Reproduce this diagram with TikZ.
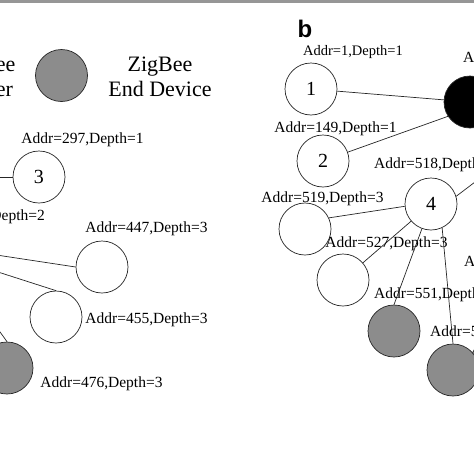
\documentclass[tikz,border=0pt]{standalone}
\usepackage{fontspec}
\setmainfont{Liberation Serif}
\newfontfamily\panelfont{Liberation Sans}
\usetikzlibrary{positioning}
\definecolor{devgray}{RGB}{140,140,140}
\definecolor{bargray}{RGB}{150,150,150}
\tikzstyle{router} = [draw=black!85, line width=0.7pt, circle, fill=white,
    minimum size=52pt, inner sep=0pt, font=\fontsize{20}{20}\selectfont]
\tikzstyle{enddev} = [router, fill=devgray]
\tikzstyle{coordnode} = [router, fill=black]
\tikzstyle{addr} = [inner sep=0pt, font=\fontsize{15.5}{18}\selectfont]
\tikzstyle{legend} = [align=center, inner sep=0pt, font=\fontsize{22}{25}\selectfont]
\tikzstyle{link} = [draw=black!85, line width=0.7pt]

\begin{document}
\begin{tikzpicture}[x=1pt, y=-1pt]
    \useasboundingbox (0,0) rectangle (474,474);
    \clip (0,0) rectangle (474,474);
    \fill [bargray] (0,0) rectangle (474,2.5);
    \node [legend] (legrouter) at (-17,77) {ZigBee\\Router};
    \node [enddev] (legdev) at (61.5,75.5) {};
    \node [legend] (legdevtext) at (160,77) {ZigBee\\End Device};
    \node [inner sep=0pt, font=\panelfont\bfseries\fontsize{24}{24}\selectfont] (panelb) at (305,29) {b};
    \coordinate (p3) at (-30,177);
    \coordinate (p447) at (-30,251);
    \coordinate (p455) at (-30,263);
    \coordinate (p476) at (-10,318);
    \coordinate (p518) at (500,163);
    \node [router] (n3) at (39,177) {3};
    \node [router] (n447) at (102,267) {};
    \node [router] (n455) at (56,317) {};
    \node [enddev] (n476) at (7,368) {};
    \node [router] (n1) at (311,89) {1};
    \node [router] (n2) at (323,161) {2};
    \node [coordnode] (n0) at (470,102) {};
    \node [router] (n4) at (431,204) {4};
    \node [router] (n519) at (305,229) {};
    \node [router] (n527) at (343,280) {};
    \node [enddev] (n551) at (394,331) {};
    \node [enddev] (n5x) at (497,362) {};
    \node [enddev] (n553) at (453,370) {};
    \draw [link] (p3) -- (n3);
    \draw [link] (p447) -- (n447.west);
    \draw [link] (p455) -- (n455.north);
    \draw [link] (p476) -- (n476.north);
    \draw [link] (n1) -- (n0);
    \draw [link] (n2) -- (n0.213);
    \draw [link] (n4.17) -- (p518);
    \draw [link] (n519.25) -- (n4.185);
    \draw [link] (n527) -- (n4);
    \draw [link] (n4) -- (n551.north);
    \draw [link] (n4.295) -- (n553.north);
    \node [addr] (l297) at (82.5,139.5) {Addr=297,Depth=1};
    \node [addr, anchor=east] (l2x) at (45,216.5) {Depth=2};
    \node [addr] (l447) at (146.5,228.5) {Addr=447,Depth=3};
    \node [addr] (l455) at (146.5,319.5) {Addr=455,Depth=3};
    \node [addr] (l476) at (101.5,383.5) {Addr=476,Depth=3};
    \node [addr, font=\fontsize{14.5}{17}\selectfont] (l1) at (353,52) {Addr=1,Depth=1};
    \node [addr, anchor=west] (l0) at (463,58.5) {Addr=0,Depth=0};
    \node [addr] (l149) at (335.5,128.5) {Addr=149,Depth=1};
    \node [addr, anchor=west] (l518) at (374,164.5) {Addr=518,Depth=2};
    \node [addr] (l519) at (322.5,198.5) {Addr=519,Depth=3};
    \node [addr] (l527) at (386.5,243.5) {Addr=527,Depth=3};
    \node [addr, anchor=west] (lx) at (464,261.5) {A};
    \node [addr, anchor=west] (l551) at (374,294.5) {Addr=551,Depth=3};
    \node [addr, anchor=west] (l5x) at (430,331.5) {Addr=5};
\end{tikzpicture}
\end{document}
